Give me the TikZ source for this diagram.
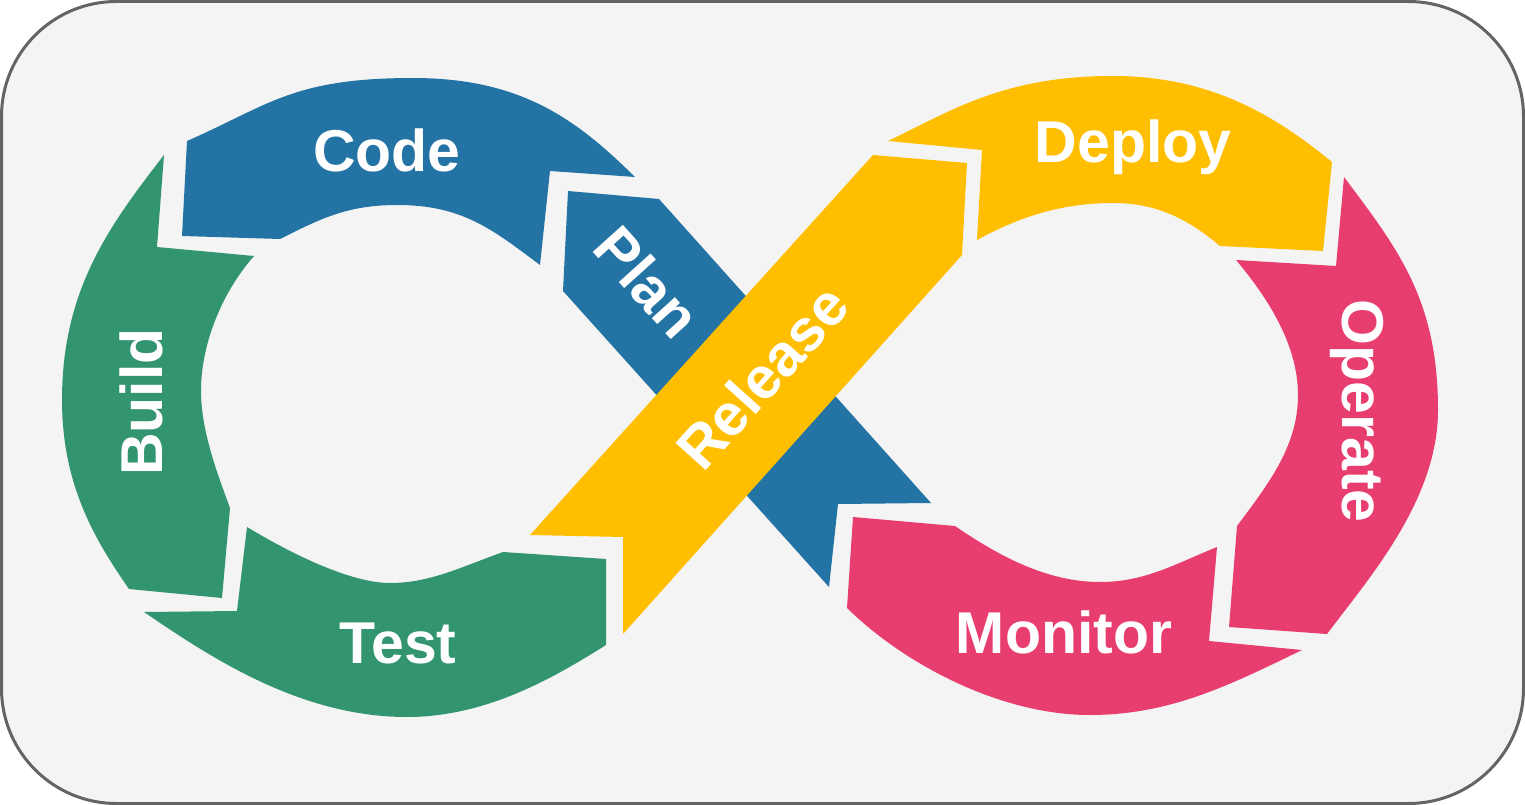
\documentclass[tikz,border=0pt]{standalone}
\usepackage{fontspec}
\setmainfont{Liberation Sans}
\definecolor{dblue}{RGB}{35,115,164}
\definecolor{dgreen}{RGB}{51,148,112}
\definecolor{dyellow}{RGB}{255,191,0}
\definecolor{dpink}{RGB}{232,62,111}
\definecolor{dback}{RGB}{244,244,244}
\definecolor{dframe}{RGB}{100,100,100}

\begin{document}
\begin{tikzpicture}[x=1pt,y=-1pt,stage label/.style={text=white,inner sep=0pt,font=\bfseries\fontsize{59}{60}\selectfont},blue part/.style={fill=dblue},green part/.style={fill=dgreen},yellow part/.style={fill=dyellow},pink part/.style={fill=dpink}]
    \useasboundingbox (0,0) rectangle (1525,805);
    \draw[fill=dback,draw=dframe,line width=3pt,rounded corners=115pt] (1.5,1.5) rectangle (1523.5,803.5);

    % left loop
    \fill[blue part] (187,141) .. controls (269,105) and (293,78) .. (413,78) .. controls (523,78) and (578,121) .. (635,177)
        -- (550,171) -- (540,265) .. controls (492,229) and (462,205) .. (397,205) .. controls (347,205) and (320,219) .. (280,239) -- (182,236) -- cycle;
    \fill[green part] (164,155) .. controls (109,226) and (62,290) .. (62,400) .. controls (62,485) and (95,540) .. (129,589)
        -- (222,598) -- (230,508) .. controls (216,470) and (201,430) .. (201,390) .. controls (201,350) and (218,297) .. (254,256) -- (157,247) -- cycle;
    \fill[green part] (144,612) .. controls (210,657) and (300,717) .. (407,717) .. controls (487,717) and (555,677) .. (606,645)
        -- (606,559) -- (503,552) .. controls (461,567) and (430,583) .. (390,583) .. controls (350,583) and (290,553) .. (247,527) -- (237,611) -- cycle;

    % crossing
    \fill[blue part] (568,191) -- (659,199) -- (931,503) -- (838,504) -- (829,587) -- (563,291) -- cycle;
    \fill[yellow part] (873,155) -- (967,163) -- (962,255) -- (623,634) -- (623,537) -- (530,535) -- cycle;

    % right loop
    \fill[yellow part] (888,141) .. controls (951,111) and (1003,76) .. (1113,76) .. controls (1213,76) and (1278,118) .. (1332,162)
        -- (1323,251) -- (1220,246) .. controls (1189,220) and (1158,203) .. (1113,203) .. controls (1063,203) and (1021,216) .. (977,240) -- (982,150) -- cycle;
    \fill[pink part] (1344,177) .. controls (1398,249) and (1438,300) .. (1438,410) .. controls (1438,500) and (1369,578) .. (1327,634)
        -- (1229,627) -- (1237,526) .. controls (1270,482) and (1298,445) .. (1298,395) .. controls (1298,345) and (1268,298) .. (1236,260) -- (1336,266) -- cycle;
    \fill[pink part] (853,517) -- (955,526) .. controls (996,554) and (1045,582) .. (1100,582) .. controls (1145,582) and (1175,564) .. (1217,547)
        -- (1209,641) -- (1302,650) .. controls (1230,685) and (1170,715) .. (1090,715) .. controls (1000,715) and (904,664) .. (847,608) -- cycle;

    \node[stage label,anchor=base] (code) at (387,172) {Code};
    \node[stage label,anchor=base,rotate=90] (build) at (162,402) {Build};
    \node[stage label,anchor=base] (test) at (398,663) {Test};
    \node[stage label,rotate=-48] (plan) at (648,282) {Plan};
    \node[stage label,rotate=48] (release) at (762,377) {Release};
    \node[stage label,anchor=base] (deploy) at (1133,163) {Deploy};
    \node[stage label,anchor=base,rotate=-90] (operate) at (1342,411) {Operate};
    \node[stage label,anchor=base] (monitor) at (1064,653) {Monitor};
\end{tikzpicture}
\end{document}
